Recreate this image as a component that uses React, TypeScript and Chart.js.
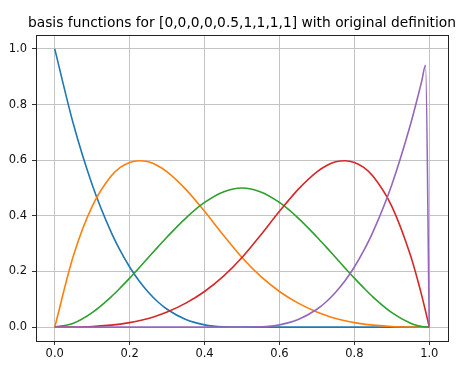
import React, { useEffect, useRef } from "react";
import { Chart, registerables } from "chart.js";

Chart.register(...registerables);

const titleText = "basis functions for [0,0,0,0,0.5,1,1,1,1] with original definition";

const xValues = [0, 0.05, 0.1, 0.15, 0.175, 0.2, 0.225, 0.25, 0.275, 0.3, 0.35, 0.4, 0.45, 0.5, 0.55, 0.6, 0.65, 0.7, 0.725, 0.75, 0.775, 0.8, 0.825, 0.85, 0.9, 0.95, 0.97, 0.98, 0.99, 1.0];

const basis0 = [1, 0.729, 0.512, 0.343, 0.2746, 0.216, 0.1664, 0.125, 0.0911, 0.064, 0.027, 0.008, 0.001, 0, 0, 0, 0, 0, 0, 0, 0, 0, 0, 0, 0, 0, 0, 0, 0, 0];
const basis1 = [0, 0.257, 0.434, 0.542, 0.5738, 0.592, 0.5982, 0.594, 0.5799, 0.558, 0.495, 0.416, 0.331, 0.25, 0.182, 0.128, 0.086, 0.054, 0.0416, 0.031, 0.0228, 0.016, 0.0107, 0.007, 0.002, 0.0003, 0.0001, 0, 0, 0];
const basis2 = [0, 0.014, 0.052, 0.108, 0.1409, 0.176, 0.2126, 0.25, 0.2874, 0.324, 0.392, 0.448, 0.486, 0.5, 0.486, 0.448, 0.392, 0.324, 0.2874, 0.25, 0.2126, 0.176, 0.1409, 0.108, 0.052, 0.014, 0.005, 0.0023, 0.0006, 0];
const basis3 = [0, 0.0003, 0.002, 0.007, 0.0107, 0.016, 0.0228, 0.031, 0.0416, 0.054, 0.086, 0.128, 0.182, 0.25, 0.331, 0.416, 0.495, 0.558, 0.5799, 0.594, 0.5982, 0.592, 0.5738, 0.542, 0.434, 0.257, 0.164, 0.113, 0.058, 0];
const basis4 = [0, 0, 0, 0, 0, 0, 0, 0, 0, 0, 0, 0, 0, 0, 0.001, 0.008, 0.027, 0.064, 0.0911, 0.125, 0.1664, 0.216, 0.2746, 0.343, 0.512, 0.729, 0.831, 0.885, 0.941, 0];

const seriesValues = [basis0, basis1, basis2, basis3, basis4];
const seriesColors = ["#1f77b4", "#ff7f0e", "#2ca02c", "#d62728", "#9467bd"];

const xTicks = [0, 0.2, 0.4, 0.6, 0.8, 1.0];
const yTicks = [0, 0.2, 0.4, 0.6, 0.8, 1.0];

export default function App() {
  const canvasRef = useRef<HTMLCanvasElement | null>(null);

  useEffect(() => {
    const canvas = canvasRef.current;
    if (!canvas) return;

    const framePlugin = {
      id: "frameAndTitle",
      afterDraw(chart: any) {
        const { ctx, chartArea } = chart;
        const { left, right, top, bottom } = chartArea;
        ctx.save();
        ctx.strokeStyle = "#222";
        ctx.lineWidth = 1;
        ctx.strokeRect(left + 0.5, top + 0.5, right - left, bottom - top);
        ctx.fillStyle = "#000";
        ctx.font = '13.8px "DejaVu Sans"';
        ctx.textAlign = "center";
        ctx.textBaseline = "alphabetic";
        ctx.fillText(titleText, (left + right) / 2, 27);
        ctx.restore();
      },
    };

    const chart = new Chart(canvas, {
      type: "line",
      data: {
        datasets: seriesValues.map((vals, i) => ({
          label: `N${i}`,
          data: xValues.map((x, j) => ({ x, y: vals[j] })),
          borderColor: seriesColors[i],
          backgroundColor: seriesColors[i],
          borderWidth: 1.6,
          pointRadius: 0,
          fill: false,
          cubicInterpolationMode: "monotone" as const,
          order: seriesValues.length - 1 - i,
        })),
      },
      options: {
        animation: false,
        responsive: false,
        devicePixelRatio: 1,
        layout: { padding: { left: 0, top: 35, right: 26, bottom: 0 } },
        plugins: {
          legend: { display: false },
          title: { display: false },
          tooltip: { enabled: false },
        },
        scales: {
          x: {
            type: "linear",
            min: -0.05,
            max: 1.05,
            afterFit(scale: any) {
              scale.height = 34;
            },
            afterBuildTicks(scale: any) {
              scale.ticks = xTicks.map((v) => ({ value: v }));
            },
            ticks: {
              includeBounds: false,
              autoSkip: false,
              maxRotation: 0,
              padding: 2,
              color: "#111",
              font: { family: "DejaVu Sans", size: 11.5 },
              callback: (v: any) => Number(v).toFixed(1),
            },
            grid: {
              color: "#c4c4c4",
              lineWidth: 1,
              tickColor: "#333",
              tickLength: 4,
            },
            border: { display: false },
          },
          y: {
            type: "linear",
            min: -0.05,
            max: 1.05,
            afterFit(scale: any) {
              scale.width = 36;
            },
            afterBuildTicks(scale: any) {
              scale.ticks = yTicks.map((v) => ({ value: v }));
            },
            ticks: {
              includeBounds: false,
              autoSkip: false,
              padding: 5,
              color: "#111",
              font: { family: "DejaVu Sans", size: 11.5 },
              callback: (v: any) => Number(v).toFixed(1),
            },
            grid: {
              color: "#c4c4c4",
              lineWidth: 1,
              tickColor: "#333",
              tickLength: 4,
            },
            border: { display: false },
          },
        },
      },
      plugins: [framePlugin],
    });

    return () => chart.destroy();
  }, []);

  return (
    <div style={{ position: "fixed", left: 0, top: 0, width: 474, height: 375, background: "#fff" }}>
      <canvas ref={canvasRef} width={474} height={375} style={{ display: "block", width: 474, height: 375 }} />
    </div>
  );
}
